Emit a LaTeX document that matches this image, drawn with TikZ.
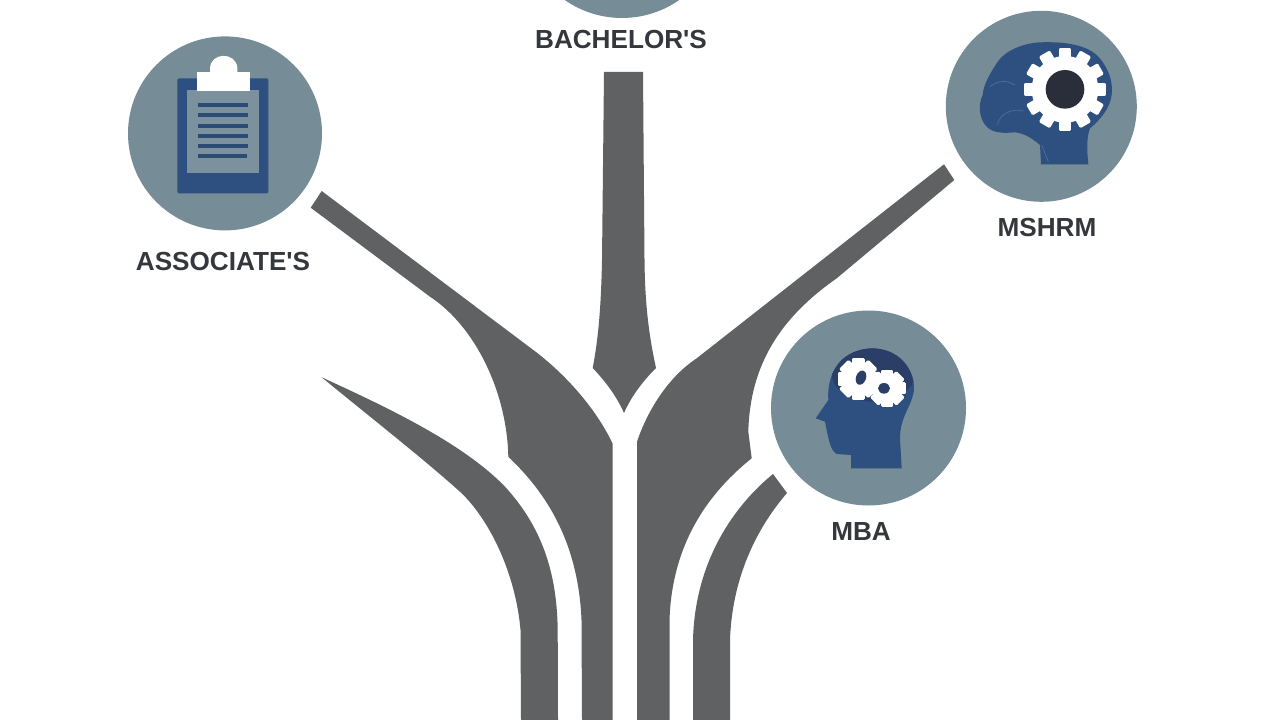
\documentclass[tikz,border=0pt]{standalone}
\usepackage{fontspec}
\setmainfont[Ligatures=TeXOff]{Liberation Sans}
\definecolor{trunk}{HTML}{5F6162}
\definecolor{disc}{HTML}{768C97}
\definecolor{paper}{HTML}{7B929E}
\definecolor{navy}{HTML}{2D5081}
\definecolor{navydark}{HTML}{2A3E68}
\definecolor{rule}{HTML}{2B4A74}
\definecolor{hub}{HTML}{2A2D3A}
\definecolor{vein}{HTML}{4A729F}
\definecolor{ink}{HTML}{34383C}
\tikzset{
  discnode/.style={circle,fill=disc,draw=none,inner sep=0pt,minimum size=#1},
  deglabel/.style={font=\bfseries\fontsize{19.6}{22}\selectfont,text=ink,inner sep=0pt,anchor=center},
  branch/.style={fill=trunk,draw=none},
  zoomA/.style={shift={(120,30)},x=0.25pt,y=-0.25pt},
  zoomB/.style={shift={(940,5)},x=0.25pt,y=-0.25pt},
  zoomC/.style={shift={(765,305)},x=0.25pt,y=-0.25pt},
}
\newcommand{\gearshape}[7]{% cx cy root outer toothwidth teeth strokewidth
  \fill[white] (#1,#2) circle[radius=#3];
  \foreach \gi in {1,...,#6}{
    \filldraw[white,line join=round,line width=#7,rotate around={\gi*360/#6:(#1,#2)}]
      (#1-#5/2,#2) -- (#1-#5/2,#2-#4) -- (#1+#5/2,#2-#4) -- (#1+#5/2,#2) -- cycle;
  }
}
\begin{document}
\begin{tikzpicture}[x=0.75pt,y=-0.75pt]
\useasboundingbox (0,0) rectangle (1280,720);
\clip (0,0) rectangle (1280,720);
\fill[white] (0,0) rectangle (1280,720);

% Central stem
\fill[branch] (604,72) -- (643,72) -- (644.5,260)
  .. controls (645,310) and (650,340) .. (656,368)
  .. controls (642,382) and (631,397) .. (624,413)
  .. controls (617,397) and (606,382) .. (592.7,368)
  .. controls (598,340) and (601,310) .. (602,260) -- cycle;

% Left main branch
\fill[branch] (310.7,207.7) -- (321.7,191) -- (533.3,350)
  .. controls (560,370) and (593,403) .. (612.5,443.3)
  -- (612.5,720) -- (582,720) -- (581.5,620)
  .. controls (578,535) and (540,487) .. (508.3,456.7)
  .. controls (507,393) and (476,327) .. (430,296.7) -- cycle;

% Right main branch
\fill[branch] (944,164.3) -- (954.3,180) -- (836.7,278.3)
  .. controls (780,318) and (750,365) .. (748.3,431.7)
  -- (751.7,458.3)
  .. controls (712,490) and (672,540) .. (669.5,620)
  -- (669.5,720) -- (637,720) -- (637,441.7)
  .. controls (647,412) and (667,378) .. (696.7,358.3) -- cycle;

% Small left branch
\fill[branch] (321.7,377.3)
  .. controls (382,405) and (462,442) .. (505,486.7)
  .. controls (542,527) and (557,573) .. (557.7,630)
  -- (558,720) -- (521,720) -- (520.5,630)
  .. controls (516,577) and (492,523) .. (461.7,493.3)
  .. controls (425,460) and (370,417) .. (321.7,377.3) -- cycle;

% Small right branch
\fill[branch] (773,474) -- (787,493)
  .. controls (755,530) and (732,580) .. (730,640)
  -- (730,720) -- (693,720) -- (693,640)
  .. controls (695,560) and (735,505) .. (773,474) -- cycle;

% Discs
\node[discnode=194*0.75pt] (assoc) at (225,133.4) {};
\node[discnode=191*0.75pt] (mshrm) at (1041.3,106.3) {};
\node[discnode=195*0.75pt] (mba) at (868.5,408) {};
\node[discnode=200*0.75pt] (bach) at (622,-82) {};

% Clipboard
\begin{scope}[zoomA]
  \fill[navy,rounded corners=1pt] (172,145) rectangle (445,490);
  \fill[paper] (202,180) rectangle (418,430);
  \fill[white] (232,125) rectangle (390,183);
  \fill[white] (270,130) -- (270,115) .. controls (272,65) and (350,65) .. (352,115) -- (352,130) -- cycle;
  \foreach \ly/\lx in {224/385,255/385,287/385,317/385,347/385,378/380}{
    \draw[rule,line width=3.2pt] (235,\ly) -- (\lx,\ly);
  }
\end{scope}

% Brain and gear
\begin{scope}[zoomB]
  \fill[navy] (303,478) -- (300,420)
    .. controls (270,395) and (250,385) .. (225,382)
    .. controls (190,385) and (160,385) .. (140,365)
    .. controls (115,340) and (115,295) .. (128,270)
    .. controls (130,240) and (150,205) .. (170,175)
    .. controls (195,135) and (250,115) .. (300,112)
    .. controls (360,110) and (430,115) .. (470,150)
    .. controls (505,185) and (520,230) .. (515,270)
    .. controls (510,310) and (480,345) .. (450,370)
    .. controls (440,395) and (440,430) .. (445,478) -- cycle;
  \draw[vein,line width=0.5pt] (172,360) .. controls (180,325) and (215,310) .. (250,318);
  \draw[vein,line width=0.5pt] (150,245) .. controls (175,225) and (200,225) .. (225,240);
  \draw[vein,line width=0.5pt] (305,420) -- (325,470);
  \gearshape{375}{253}{100}{120}{30}{12}{2pt}
  \fill[hub] (375,253) circle[radius=58];
\end{scope}

% Head and gears
\begin{scope}[zoomC]
  \begin{scope}
    \clip (258,490) -- (258,450) -- (215,447)
      .. controls (195,435) and (190,400) .. (180,350) -- (152,340) -- (190,285)
      .. controls (185,220) and (215,135) .. (320,130)
      .. controls (400,130) and (447,190) .. (447,250)
      .. controls (445,300) and (405,330) .. (405,400) -- (410,490) -- cycle;
    \fill[navy] (140,120) rectangle (460,500);
    \fill[navydark] (325,205) ellipse[x radius=125,y radius=85];
  \end{scope}
  \gearshape{280}{222}{50}{58}{32}{8}{2pt}
  \fill[navydark,rotate around={-20:(288,218)}] (288,218) ellipse[x radius=15,y radius=22];
  \gearshape{367}{250}{46}{52}{28}{8}{2pt}
  \fill[navydark] (357,250) ellipse[x radius=18,y radius=16];
\end{scope}

% Labels
\node[deglabel] (lassoc) at (223,262) {ASSOCIATE'S};
\node[deglabel] (lbach) at (621,40) {BACHELOR'S};
\node[deglabel] (lmshrm) at (1047,228) {MSHRM};
\node[deglabel] (lmba) at (861,532) {MBA};
\end{tikzpicture}
\end{document}
